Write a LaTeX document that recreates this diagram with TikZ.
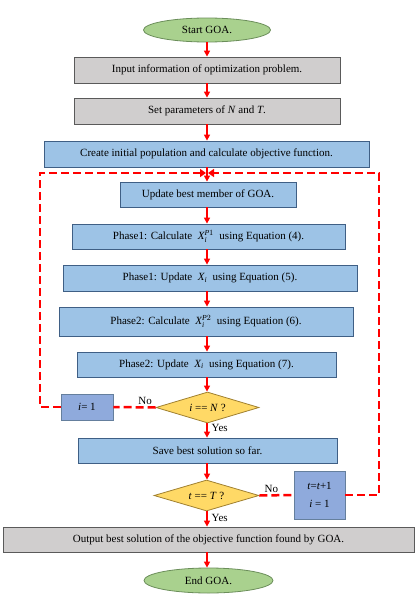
\documentclass[tikz,border=0pt]{standalone}
\usepackage{amsmath}
\usepackage{fontspec}
\setmainfont{Liberation Serif}
\usetikzlibrary{shapes.geometric,arrows.meta}
\definecolor{gfill}{HTML}{A9D18E}
\definecolor{gdraw}{HTML}{6B8E5A}
\definecolor{grfill}{HTML}{D0CECE}
\definecolor{grdraw}{HTML}{5A5A5A}
\definecolor{bfill}{HTML}{9DC3E6}
\definecolor{bdraw}{HTML}{3F5F85}
\definecolor{b2fill}{HTML}{8FAADC}
\definecolor{yfill}{HTML}{FFD966}
\definecolor{ydraw}{HTML}{A08030}
\definecolor{ared}{HTML}{FF0000}
\newcommand{\Xv}[1]{$\textit{X}_{\textit{i}}^{#1}$}
\begin{document}
\begin{tikzpicture}[x=1pt,y=-1pt,
  every node/.style={font=\fontsize{11}{13}\selectfont, inner sep=0pt},
  term/.style={ellipse, draw=gdraw, fill=gfill, line width=0.8pt},
  graybox/.style={rectangle, draw=grdraw, fill=grfill, line width=0.8pt},
  bluebox/.style={rectangle, draw=bdraw, fill=bfill, line width=0.8pt},
  blue2box/.style={rectangle, draw=bdraw!80, fill=b2fill, line width=0.8pt},
  decide/.style={diamond, aspect=3.3, draw=ydraw, fill=yfill, line width=0.8pt},
  arr/.style={draw=ared, line width=1.4pt, -{Triangle[length=6pt,width=6pt]}},
  dashln/.style={draw=ared, line width=2.5pt, dash pattern=on 8pt off 4pt},
  darr/.style={dashln, -{Triangle[length=6pt,width=8pt]}},
  lbl/.style={font=\fontsize{11}{13}\selectfont}
]
\useasboundingbox (0,0) rectangle (416,597);
\node[term, minimum width=127, minimum height=24] (start) at (207,30) {Start GOA.};
\node[graybox, minimum width=266, minimum height=26] (input) at (207,70) {Input information of optimization problem.};
\node[graybox, minimum width=266, minimum height=26] (param) at (207,111) {Set parameters of \textit{N} and \textit{T}.};
\node[bluebox, minimum width=325, minimum height=26] (create) at (206.5,154) {Create initial population and calculate objective function.};
\node[bluebox, minimum width=176, minimum height=25] (update) at (208,194.5) {Update best member of GOA.};
\node[bluebox, minimum width=273, minimum height=25] (pa) at (208.5,236.5) {Phase1: Calculate \ \Xv{\textit{P}1} \ using Equation (4).};
\node[bluebox, minimum width=294, minimum height=26] (pb) at (210,278) {Phase1: Update \ $\textit{X}_{\textit{i}}$ \ using Equation (5).};
\node[bluebox, minimum width=294, minimum height=29] (pc) at (206,321.5) {Phase2: Calculate \ \Xv{\textit{P}2} \ using Equation (6).};
\node[bluebox, minimum width=259, minimum height=25] (pd) at (206.5,364.5) {Phase2: Update \ $\textit{X}_{\textit{i}}$ \ using Equation (7).};
\node[decide, minimum width=103, minimum height=31] (dn) at (207.5,407.5) {\textit{i} == \textit{N} ?};
\node[blue2box, minimum width=52, minimum height=26] (ione) at (87,407) {\textit{i}= 1};
\node[bluebox, minimum width=259, minimum height=25] (save) at (207.5,450.5) {Save best solution so far.};
\node[decide, minimum width=105, minimum height=31] (dt) at (206.5,495.5) {\textit{t} == \textit{T} ?};
\node[blue2box, minimum width=51, minimum height=48, align=center] (tinc) at (319.5,495) {\textit{t}=\textit{t}+1\\[5pt]\textit{i} = 1};
\node[graybox, minimum width=411, minimum height=25] (out) at (208.5,539.5) {Output best solution of the objective function found by GOA.};
\node[term, minimum width=129, minimum height=25] (end) at (208.5,580.5) {End GOA.};

\coordinate (m) at (207,173);
\coordinate (lt) at (40,173);
\coordinate (lb) at (40,407);
\coordinate (rt) at (379,173);
\coordinate (rb) at (379,495);

\draw[arr] (start.south -| 207,0) -- (207,0 |- input.north);
\draw[arr] (input.south -| 207,0) -- (207,0 |- param.north);
\draw[arr] (param.south -| 207,0) -- (207,0 |- create.north);
\draw[arr] (create.south -| 207,0) -- (207,0 |- update.north);
\draw[arr] (update.south -| 207,0) -- (207,0 |- pa.north);
\draw[arr] (pa.south -| 207,0) -- (207,0 |- pb.north);
\draw[arr] (pb.south -| 207,0) -- (207,0 |- pc.north);
\draw[arr] (pc.south -| 207,0) -- (207,0 |- pd.north);
\draw[arr] (pd.south -| 207,0) -- (207,0 |- dn.north);
\draw[arr] (dn.south -| 207,0) -- (207,0 |- save.north) node[lbl, pos=0.35, right=4pt] {Yes};
\draw[arr] (save.south -| 207,0) -- (207,0 |- dt.north);
\draw[arr] (dt.south -| 207,0) -- (207,0 |- out.north) node[lbl, pos=0.45, right=4pt] {Yes};
\draw[arr] (out.south -| 207,0) -- (207,0 |- end.north);

\draw[dashln] (dn.west) -- (ione.east) node[lbl, pos=0.25, above=1.5pt] {No};
\draw[darr] (ione.west) -- (lb) -- (lt) -- ([xshift=-1pt]m);
\draw[dashln] (dt.east) -- (tinc.west) node[lbl, pos=0.35, above=1.5pt] {No};
\draw[darr] (tinc.east) -- (rb) -- (rt) -- ([xshift=1pt]m);
\end{tikzpicture}
\end{document}
